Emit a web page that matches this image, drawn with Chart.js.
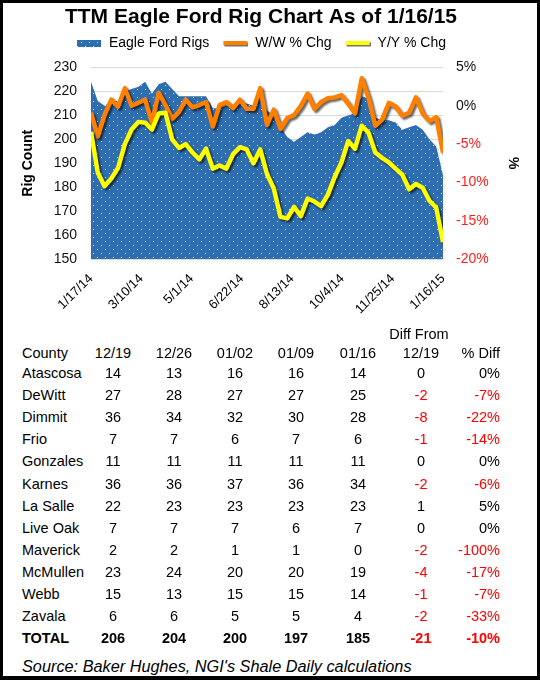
<!DOCTYPE html>
<html>
<head>
<meta charset="utf-8">
<script src="https://cdn.jsdelivr.net/npm/chart.js@4.4.1/dist/chart.umd.min.js"></script>
<style>
  html, body { margin: 0; padding: 0; background: #000; }
  .frame { position: absolute; left: 3px; top: 3px; width: 534px; height: 673px; background: #fff; }
  #chartBox { position: absolute; left: 0; top: 0; width: 522px; height: 330px; }
  .cell { position: absolute; font-family: "Liberation Sans", Arial, sans-serif; font-size: 14.5px; line-height: 1; white-space: nowrap; color: #000; }
  .bold { font-weight: bold; }
  .neg { color: #ff0000; }
  .source { font-style: italic; font-size: 16.3px; }
</style>
</head>
<body>
<div class="frame"></div>
<div id="chartBox"><canvas id="rigChart" width="522" height="330"></canvas></div>
<div id="table"></div>
<script>
// weekly dates, rig counts, week-over-week and year-over-year % change
const weeks = [
  '1/17/14', '1/24/14', '1/31/14', '2/7/14', '2/14/14', '2/21/14', '2/28/14', '3/7/14', '3/14/14', '3/21/14',
  '3/28/14', '4/4/14', '4/11/14', '4/18/14', '4/25/14', '5/2/14', '5/9/14', '5/16/14', '5/23/14', '5/30/14',
  '6/6/14', '6/13/14', '6/20/14', '6/27/14', '7/4/14', '7/11/14', '7/18/14', '7/25/14', '8/1/14', '8/8/14',
  '8/15/14', '8/22/14', '8/29/14', '9/5/14', '9/12/14', '9/19/14', '9/26/14', '10/3/14', '10/10/14', '10/17/14',
  '10/24/14', '10/31/14', '11/7/14', '11/14/14', '11/21/14', '11/28/14', '12/5/14', '12/12/14', '12/19/14', '12/26/14',
  '1/2/15', '1/9/15', '1/16/15'
];
const rigs = [
  224, 216, 214, 216, 216, 220, 221, 222, 224, 219,
  223, 224, 221, 218, 218, 218, 218, 218, 213, 213,
  214, 214, 215, 215, 214, 218, 212, 210, 205, 201,
  199, 201, 203, 202, 203, 205, 206, 209, 210, 211,
  218, 217, 209, 208, 208, 207, 204, 205, 206, 204,
  200, 197, 185
];
const wowChg = [
  -0.9, -4.0, -1.2, 0.8, -0.1, 2.3, 0.0, 0.4, 0.8, -2.2,
  1.7, 0.1, -1.7, -0.8, 0.8, -0.2, 0.1, 0.5, -2.7, 0.1,
  0.5, -0.3, 0.8, -0.4, -0.4, 2.3, -2.5, -0.5, -3.0, -1.6,
  -1.2, 0.0, 1.6, -0.4, 0.5, 1.0, 1.1, 1.4, 0.3, -1.0,
  3.6, 1.0, -2.6, -1.8, 0.4, -0.1, -1.3, -0.9, 1.1, -1.0,
  -2.0, -1.5, -6.1
];
const yoyChg = [
  -3.4, -8.7, -10.5, -9.5, -8.1, -5.0, -3.1, -2.1, -2.2, -3.1,
  -1.0, -0.9, -4.4, -5.5, -5.0, -6.1, -7.0, -5.6, -8.2, -7.8,
  -8.2, -6.3, -5.4, -5.7, -7.5, -5.7, -8.9, -10.8, -14.5, -14.7,
  -13.2, -14.4, -12.1, -12.5, -13.1, -11.6, -9.3, -7.4, -4.6, -5.6,
  -2.6, -3.5, -6.1, -6.8, -7.4, -8.2, -9.0, -10.9, -10.2, -10.7,
  -12.4, -13.3, -17.8
];
const xTickLabels = ['1/17/14', '3/10/14', '5/1/14', '6/22/14', '8/13/14', '10/4/14', '11/25/14', '1/16/15'];

// county table
const counties = ['Atascosa', 'DeWitt', 'Dimmit', 'Frio', 'Gonzales', 'Karnes', 'La Salle', 'Live Oak', 'Maverick', 'McMullen', 'Webb', 'Zavala', 'TOTAL'];
const tableWeeks = ['12/19', '12/26', '01/02', '01/09', '01/16'];
const dec19 = [14, 27, 36, 7, 11, 36, 22, 7, 2, 23, 15, 6, 206];
const dec26 = [13, 28, 34, 7, 11, 36, 23, 7, 2, 24, 13, 6, 204];
const jan02 = [16, 27, 32, 6, 11, 37, 23, 7, 1, 20, 15, 5, 200];
const jan09 = [16, 27, 30, 7, 11, 36, 23, 6, 1, 20, 15, 5, 197];
const jan16 = [14, 25, 28, 6, 11, 34, 23, 7, 0, 19, 14, 4, 185];
const diffFrom = [0, -2, -8, -1, 0, -2, 1, 0, -2, -4, -1, -2, -21];
const pctDiff = [0, -7, -22, -14, 0, -6, 5, 0, -100, -17, -7, -33, -10];

const FONT = '"Liberation Sans", Arial, sans-serif';
const BLUE = '#2e6db0';
const ORANGE = '#ff8000';
const YELLOW = '#ffff00';

function toDay(s) {
    const [m, d, y] = s.split('/').map(Number);
    return Date.UTC(2000 + y, m - 1, d) / 86400000;
}
const day0 = toDay(weeks[0]);
const xs = weeks.map(w => toDay(w) - day0);
const xTickDays = xTickLabels.map(w => toDay(w) - day0);

function dotPattern(ctx) {
    const c = document.createElement('canvas');
    c.width = 8; c.height = 8;
    const g = c.getContext('2d');
    g.fillStyle = BLUE;
    g.fillRect(0, 0, 8, 8);
    g.fillStyle = 'rgba(255,255,255,0.85)';
    g.fillRect(1, 1, 1, 1);
    g.fillRect(5, 5, 1, 1);
    return ctx.createPattern(c, 'repeat');
}

function swatch(kind, color) {
    const c = document.createElement('canvas');
    c.width = 26; c.height = 12;
    const g = c.getContext('2d');
    if (kind === 'area') {
        g.fillStyle = dotPattern(g);
        g.fillRect(1, 3, 24, 7);
    } else {
        g.lineWidth = 4;
        g.lineCap = 'butt';
        g.strokeStyle = 'rgba(0,0,0,0.55)';
        g.beginPath(); g.moveTo(2, 7.5); g.lineTo(26, 7.5); g.stroke();
        g.strokeStyle = color;
        g.beginPath(); g.moveTo(1, 6); g.lineTo(25, 6); g.stroke();
    }
    return c;
}

const shadowPlugin = {
    id: 'lineShadow',
    beforeDatasetDraw(chart, args) {
        if (args.index === 0) return;
        const ctx = chart.ctx;
        ctx.save();
        ctx.shadowColor = 'rgba(0,0,0,0.6)';
        ctx.shadowBlur = 2;
        ctx.shadowOffsetX = 2;
        ctx.shadowOffsetY = 2;
    },
    afterDatasetDraw(chart, args) {
        if (args.index === 0) return;
        chart.ctx.restore();
    }
};

// empty layout box that keeps some room between the legend and the plot
const legendGap = {
    id: 'legendGap',
    beforeInit(chart) {
        Chart.layouts.addBox(chart, {
            position: 'top',
            weight: 500,
            fullSize: true,
            options: {},
            top: 0, left: 0, right: 0, bottom: 0, width: 0, height: 0,
            isHorizontal() { return true; },
            update(maxWidth) { this.width = maxWidth; this.height = 7.5; },
            draw() {}
        });
    }
};

const canvas = document.getElementById('rigChart');
const ctx = canvas.getContext('2d');

new Chart(canvas, {
    type: 'line',
    data: {
        datasets: [
            {
                label: 'Eagle Ford Rigs',
                data: xs.map((x, i) => ({ x: x, y: rigs[i] })),
                yAxisID: 'y',
                fill: 'start',
                backgroundColor: dotPattern(ctx),
                borderWidth: 0,
                pointRadius: 0,
                pointStyle: swatch('area'),
                order: 3
            },
            {
                label: 'W/W % Chg',
                data: xs.map((x, i) => ({ x: x, y: wowChg[i] })),
                yAxisID: 'y1',
                borderColor: ORANGE,
                borderWidth: 4.5,
                borderJoinStyle: 'round',
                pointRadius: 0,
                pointStyle: swatch('line', ORANGE),
                order: 2
            },
            {
                label: 'Y/Y % Chg',
                data: xs.map((x, i) => ({ x: x, y: yoyChg[i] })),
                yAxisID: 'y1',
                borderColor: YELLOW,
                borderWidth: 4.5,
                borderJoinStyle: 'round',
                pointRadius: 0,
                pointStyle: swatch('line', YELLOW),
                order: 1
            }
        ]
    },
    options: {
        responsive: false,
        animation: false,
        events: [],
        layout: { padding: 0 },
        plugins: {
            title: {
                display: true,
                text: 'TTM Eagle Ford Rig Chart As of 1/16/15',
                color: '#000',
                font: { family: FONT, size: 21, weight: 'bold' },
                padding: { top: 4.4, bottom: -6.6 }
            },
            legend: {
                display: true,
                labels: {
                    sort: (a, b) => a.datasetIndex - b.datasetIndex,
                    usePointStyle: true,
                    pointStyleWidth: 26,
                    boxHeight: 12,
                    padding: 13,
                    color: '#000',
                    font: { family: FONT, size: 14 }
                }
            },
            tooltip: { enabled: false }
        },
        scales: {
            x: {
                type: 'linear',
                min: 0,
                max: xTickDays[xTickDays.length - 1],
                afterBuildTicks: (s) => { s.ticks = xTickDays.map(v => ({ value: v })); },
                afterFit: (s) => { s.height = 71; },
                grid: { display: false },
                border: { display: false },
                ticks: {
                    minRotation: 45,
                    maxRotation: 45,
                    padding: 4,
                    color: '#000',
                    font: { family: FONT, size: 13 },
                    callback: (v, i) => xTickLabels[i]
                }
            },
            y: {
                position: 'left',
                min: 150,
                max: 230,
                afterFit: (s) => { s.width = 91; },
                grid: { color: '#d9d9d9', lineWidth: 1, drawTicks: false },
                border: { display: false },
                ticks: {
                    stepSize: 10,
                    padding: 14,
                    color: '#111',
                    font: { family: FONT, size: 14 }
                },
                title: {
                    display: true,
                    text: 'Rig Count',
                    color: '#000',
                    font: { family: FONT, size: 14, weight: 'bold' },
                    padding: { top: 20, bottom: 0 }
                }
            },
            y1: {
                position: 'right',
                min: -20,
                max: 5,
                afterFit: (s) => { s.width = 79; },
                grid: { display: false, drawTicks: false },
                border: { display: false },
                ticks: {
                    stepSize: 5,
                    padding: 13,
                    color: (c) => c.tick.value < 0 ? '#ff2020' : '#111',
                    font: { family: FONT, size: 14 },
                    callback: (v) => v + '%'
                },
                title: {
                    display: true,
                    text: '%',
                    color: '#000',
                    font: { family: FONT, size: 14, weight: 'bold' },
                    padding: { top: 1, bottom: 0 }
                }
            }
        }
    },
    plugins: [shadowPlugin, legendGap]
});

// table below the chart
const table = document.getElementById('table');
function put(text, x, y, align, cls) {
    const el = document.createElement('div');
    el.className = 'cell ' + (cls || '');
    el.textContent = text;
    el.style.left = x + 'px';
    el.style.top = y + 'px';
    const tx = align === 'center' ? '-50%' : align === 'right' ? '-100%' : '0';
    el.style.transform = 'translate(' + tx + ', -50%)';
    table.appendChild(el);
}

const colX = [113, 174, 235, 296, 358];
const diffX = 421;
const pctX = 500;
const headY = 353;
const rowY0 = 373;
const rowStep = 22.1;

put('Diff From', 419, 334, 'center');
put('County', 22, headY, 'left');
tableWeeks.forEach((w, j) => put(w, colX[j], headY, 'center'));
put('12/19', diffX, headY, 'center');
put('% Diff', pctX, headY, 'right');

const weekCols = [dec19, dec26, jan02, jan09, jan16];
counties.forEach((name, i) => {
    const y = rowY0 + i * rowStep;
    const b = name === 'TOTAL' ? 'bold' : '';
    put(name, 22, y, 'left', b);
    weekCols.forEach((col, j) => put(String(col[i]), colX[j], y, 'center', b));
    put(String(diffFrom[i]), diffX, y, 'center', b + (diffFrom[i] < 0 ? ' neg' : ''));
    put(pctDiff[i] + '%', pctX, y, 'right', b + (pctDiff[i] < 0 ? ' neg' : ''));
});

put("Source: Baker Hughes, NGI's Shale Daily calculations", 22, 666, 'left', 'source');
</script>
</body>
</html>
